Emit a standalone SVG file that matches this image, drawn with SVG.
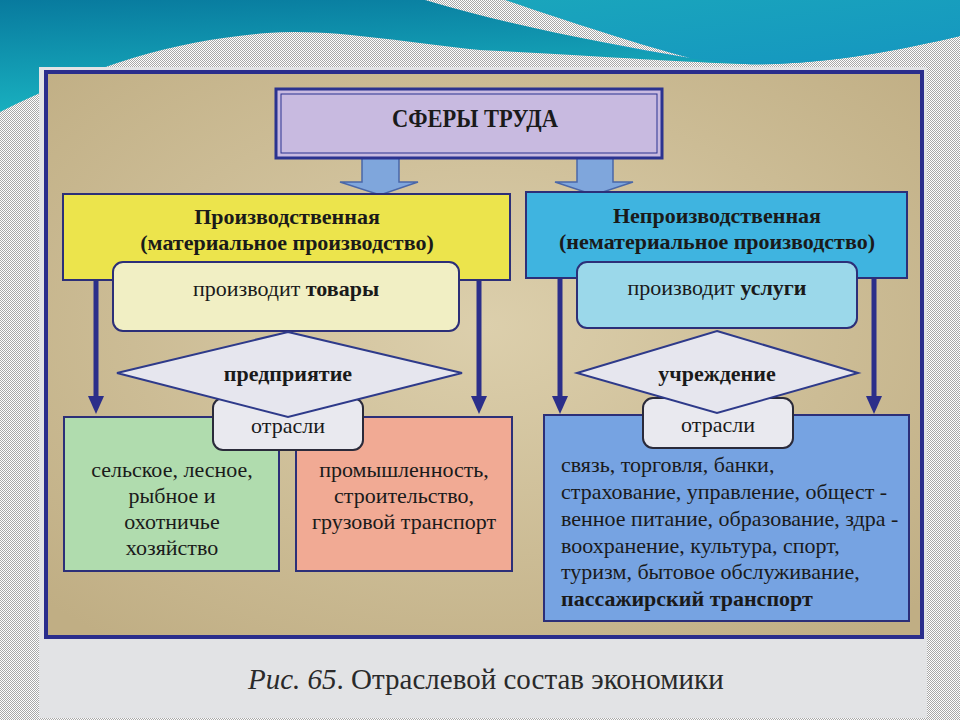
<svg xmlns="http://www.w3.org/2000/svg" width="960" height="720" viewBox="0 0 960 720">
<defs>
<pattern id="hatch" width="2" height="2" patternUnits="userSpaceOnUse">
<rect width="2" height="2" fill="#ffffff"/>
<rect width="1" height="1" fill="#a8a8a8"/>
<rect x="1" y="1" width="1" height="1" fill="#a8a8a8"/>
</pattern>
<linearGradient id="tealA" x1="0" y1="0" x2="0.3" y2="1">
<stop offset="0" stop-color="#087a9e"/>
<stop offset="1" stop-color="#1ab4c2"/>
</linearGradient>
<linearGradient id="tealB" x1="0" y1="0" x2="1" y2="1">
<stop offset="0" stop-color="#1aa6bc"/>
<stop offset="1" stop-color="#1596c0"/>
</linearGradient>
<radialGradient id="panelG" cx="0.5" cy="0.45" r="0.7">
<stop offset="0" stop-color="#dccfac"/>
<stop offset="1" stop-color="#c0ae84"/>
</radialGradient>
<marker id="ah" viewBox="0 0 18 16" refX="0" refY="8" markerWidth="18" markerHeight="16" markerUnits="userSpaceOnUse" orient="auto">
<path d="M0,0 L18,8 L0,16 Z" fill="#2b2e8a"/>
</marker>
<style>
.t{font-family:"Liberation Serif","Times New Roman",serif;fill:#1a1a1a;font-size:22px}
.c{text-anchor:middle}
.b{font-weight:bold}
.box{stroke:#2c2f78;stroke-width:2}
.ln{stroke:#2b2e8a;stroke-width:5;fill:none}
.blk{fill:#7fa6dc;stroke:#4a67a8;stroke-width:1.5}
.dia{fill:#e6e6ee;stroke:#2e3a8a;stroke-width:2}
.otr{fill:#e9e9ef;stroke:#2a2a3a;stroke-width:2}
.ttl{font-size:26px}
.cap{font-size:29px;fill:#2a2a2a}
</style>
</defs>

<!-- background -->
<rect width="960" height="720" fill="url(#hatch)"/>
<path d="M0,0 H960 V36 C900,50 820,66 745,64 C680,62 600,56 480,50 C400,42 330,28 267,33 C180,40 100,62 0,112 Z" fill="url(#tealA)"/>
<path d="M470,0 H960 V36 C900,50 820,66 745,64 C690,60 640,52 600,42 Z" fill="url(#tealB)"/>
<path d="M425,0 H505 C570,22 640,45 690,58 C610,44 520,28 425,0 Z" fill="url(#hatch)"/>

<!-- page -->
<rect x="39" y="67" width="888" height="651" fill="#e2e3e5"/>
<rect x="46" y="72" width="876" height="565" fill="url(#panelG)" stroke="#2a2d8c" stroke-width="4"/>

<!-- connectors -->
<g id="connectors">
<path class="blk" d="M362,158 H399 V182 H418 L380,195 L340,182 H362 Z"/>
<path class="blk" d="M577,158 H613 V182 H633 L594,195 L555,182 H577 Z"/>
<line class="ln" x1="96" y1="280" x2="96" y2="396" marker-end="url(#ah)"/>
<line class="ln" x1="479" y1="280" x2="479" y2="396" marker-end="url(#ah)"/>
<line class="ln" x1="560" y1="278" x2="560" y2="396" marker-end="url(#ah)"/>
<line class="ln" x1="874" y1="278" x2="874" y2="396" marker-end="url(#ah)"/>
</g>

<g id="sfery">
<rect x="276" y="89" width="386" height="69" fill="#c8bae0" stroke="#2b3390" stroke-width="3"/>
<rect x="281" y="94" width="376" height="59" fill="none" stroke="#2b3390" stroke-width="1"/>
<text class="t c b ttl" x="475" y="127" textLength="166" lengthAdjust="spacingAndGlyphs">СФЕРЫ ТРУДА</text>
</g>

<g id="proizv">
<rect class="box" x="63" y="194" width="447" height="86" fill="#ece44c"/>
<text class="t c b" x="287" y="224">Производственная</text>
<text class="t c b" x="287" y="250">(материальное производство)</text>
</g>

<g id="neproizv">
<rect class="box" x="526" y="192" width="381" height="86" fill="#3fb4e0"/>
<text class="t c b" x="717" y="223">Непроизводственная</text>
<text class="t c b" x="717" y="249">(нематериальное производство)</text>
</g>

<g id="tovary">
<rect class="box" x="113" y="262" width="346" height="69" rx="10" fill="#f1efc4"/>
<text class="t c" x="286" y="296">производит <tspan class="b">товары</tspan></text>
</g>

<g id="uslugi">
<rect class="box" x="577" y="262" width="280" height="66" rx="10" fill="#9bd8ea"/>
<text class="t c" x="717" y="295">производит <tspan class="b">услуги</tspan></text>
</g>

<g id="selskoe">
<rect class="box" x="64" y="417" width="215" height="154" fill="#b0dcae"/>
<text class="t c" x="172" y="477">сельское, лесное,</text>
<text class="t c" x="172" y="503">рыбное и</text>
<text class="t c" x="172" y="529">охотничье</text>
<text class="t c" x="172" y="555">хозяйство</text>
</g>

<g id="prom">
<rect class="box" x="296" y="417" width="216" height="154" fill="#f1aa94"/>
<text class="t c" x="404" y="477">промышленность,</text>
<text class="t c" x="404" y="503">строительство,</text>
<text class="t c" x="404" y="529">грузовой транспорт</text>
</g>

<g id="uslugi-otrasli">
<rect class="box" x="544" y="415" width="365" height="206" fill="#76a3e2"/>
<text class="t" x="561" y="472">связь, торговля, банки,</text>
<text class="t" x="561" y="499">страхование, управление, общест -</text>
<text class="t" x="561" y="526">венное питание, образование, здра -</text>
<text class="t" x="561" y="553">воохранение, культура, спорт,</text>
<text class="t" x="561" y="579">туризм, бытовое обслуживание,</text>
<text class="t b" x="561" y="606">пассажирский транспорт</text>
</g>

<g id="otrasli-left">
<rect class="otr" x="213" y="398" width="150" height="52" rx="10"/>
<text class="t c" x="288" y="433">отрасли</text>
</g>

<g id="otrasli-right">
<rect class="otr" x="643" y="398" width="150" height="50" rx="10"/>
<text class="t c" x="718" y="432">отрасли</text>
</g>

<g id="predpriyatie">
<path class="dia" d="M288,332 L462,373 L288,417 L117,373 Z"/>
<text class="t c b" x="288" y="381">предприятие</text>
</g>

<g id="uchrezhdenie">
<path class="dia" d="M717,331 L858,373 L717,413 L577,373 Z"/>
<text class="t c b" x="717" y="381">учреждение</text>
</g>

<g id="caption">
<text class="t cap" x="248" y="689"><tspan font-style="italic">Рис. 65</tspan>. Отраслевой состав экономики</text>
</g>
</svg>
